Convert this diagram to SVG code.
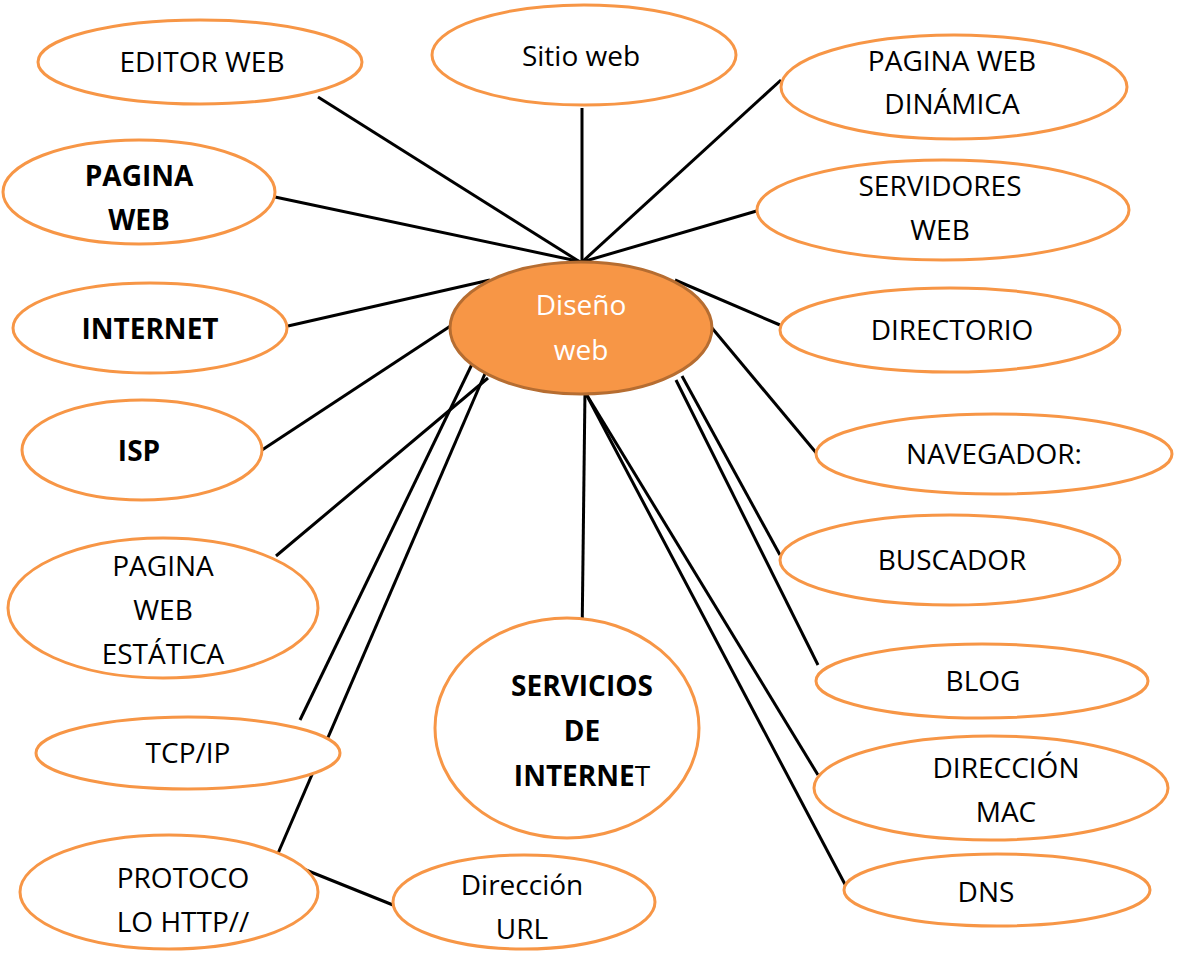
<svg xmlns="http://www.w3.org/2000/svg" width="1197" height="975" viewBox="0 0 1197 975">
<style>
.n{fill:#fff;stroke:#F79646;stroke-width:3}
.c{fill:#F79646;stroke:#B66D31;stroke-width:3}
text{font-family:"Open Sans","Liberation Sans",sans-serif;font-size:28px;fill:#000;text-anchor:middle}
.b{font-weight:bold}
.w{fill:#fff}
#conn line{stroke:#000;stroke-width:3}
</style>
<rect width="1197" height="975" fill="#fff"/>
<g id="conn">
<line x1="580" y1="262" x2="318" y2="97"/>
<line x1="582" y1="262" x2="582" y2="108"/>
<line x1="582" y1="262" x2="781" y2="80"/>
<line x1="582" y1="262" x2="275" y2="197"/>
<line x1="582" y1="262" x2="760" y2="210"/>
<line x1="490" y1="280" x2="288" y2="326"/>
<line x1="675" y1="280" x2="780" y2="325"/>
<line x1="452" y1="325" x2="262" y2="450"/>
<line x1="712" y1="328" x2="818" y2="455"/>
<line x1="488" y1="378" x2="276" y2="556"/>
<line x1="682" y1="376" x2="780" y2="555"/>
<line x1="475" y1="358" x2="300" y2="720"/>
<line x1="585" y1="390" x2="582" y2="642"/>
<line x1="676" y1="380" x2="818" y2="665"/>
<line x1="490" y1="362" x2="276" y2="858"/>
<line x1="276" y1="858" x2="393" y2="905"/>
<line x1="585" y1="392" x2="818" y2="775"/>
<line x1="585" y1="392" x2="848" y2="890"/>
</g>
<g id="editor"><ellipse class="n" cx="200" cy="62" rx="162" ry="42"/><text x="202" y="72">EDITOR WEB</text></g>
<g id="sitio"><ellipse class="n" cx="584" cy="55" rx="152" ry="50"/><text x="581" y="66">Sitio web</text></g>
<g id="dinamica"><ellipse class="n" cx="954" cy="87" rx="173" ry="52"/><text x="952" y="71">PAGINA WEB</text><text x="952" y="114">DINÁMICA</text></g>
<g id="paginaweb"><ellipse class="n" cx="139" cy="192" rx="136" ry="52"/><text class="b" x="139" y="186">PAGINA</text><text class="b" x="139" y="230">WEB</text></g>
<g id="servidores"><ellipse class="n" cx="943" cy="210" rx="186" ry="50"/><text x="940" y="196">SERVIDORES</text><text x="940" y="240">WEB</text></g>
<g id="internet"><ellipse class="n" cx="150" cy="328" rx="137" ry="45"/><text class="b" x="150" y="339">INTERNET</text></g>
<g id="diseno"><ellipse class="c" cx="581" cy="328" rx="131" ry="66"/><text class="w" x="581" y="315">Diseño</text><text class="w" x="581" y="360">web</text></g>
<g id="directorio"><ellipse class="n" cx="950" cy="330" rx="170" ry="42"/><text x="952" y="340">DIRECTORIO</text></g>
<g id="isp"><ellipse class="n" cx="142" cy="450" rx="120" ry="50"/><text class="b" x="139" y="461">ISP</text></g>
<g id="navegador"><ellipse class="n" cx="994" cy="454" rx="178" ry="40"/><text x="994" y="464">NAVEGADOR:</text></g>
<g id="estatica"><ellipse class="n" cx="163" cy="608" rx="155" ry="70"/><text x="163" y="576">PAGINA</text><text x="163" y="620">WEB</text><text x="163" y="664">ESTÁTICA</text></g>
<g id="buscador"><ellipse class="n" cx="950" cy="560" rx="170" ry="45"/><text x="952" y="570">BUSCADOR</text></g>
<g id="servicios"><ellipse class="n" cx="567" cy="728" rx="132" ry="110"/><text class="b" x="582" y="696">SERVICIOS</text><text class="b" x="582" y="741">DE</text><text x="582" y="786"><tspan class="b">INTERNE</tspan>T</text></g>
<g id="blog"><ellipse class="n" cx="982" cy="681" rx="166" ry="37"/><text x="983" y="691">BLOG</text></g>
<g id="tcp"><ellipse class="n" cx="188" cy="753" rx="152" ry="36"/><text x="188" y="763">TCP/IP</text></g>
<g id="mac"><ellipse class="n" cx="991" cy="788" rx="177" ry="52"/><text x="1006" y="778">DIRECCIÓN</text><text x="1006" y="822">MAC</text></g>
<g id="protocolo"><ellipse class="n" cx="169" cy="892" rx="149" ry="57"/><text x="183" y="888">PROTOCO</text><text x="183" y="932">LO HTTP//</text></g>
<g id="url"><ellipse class="n" cx="524" cy="902" rx="131" ry="47"/><text x="522" y="895">Dirección</text><text x="522" y="939">URL</text></g>
<g id="dns"><ellipse class="n" cx="997" cy="890" rx="153" ry="36"/><text x="986" y="902">DNS</text></g>
</svg>
